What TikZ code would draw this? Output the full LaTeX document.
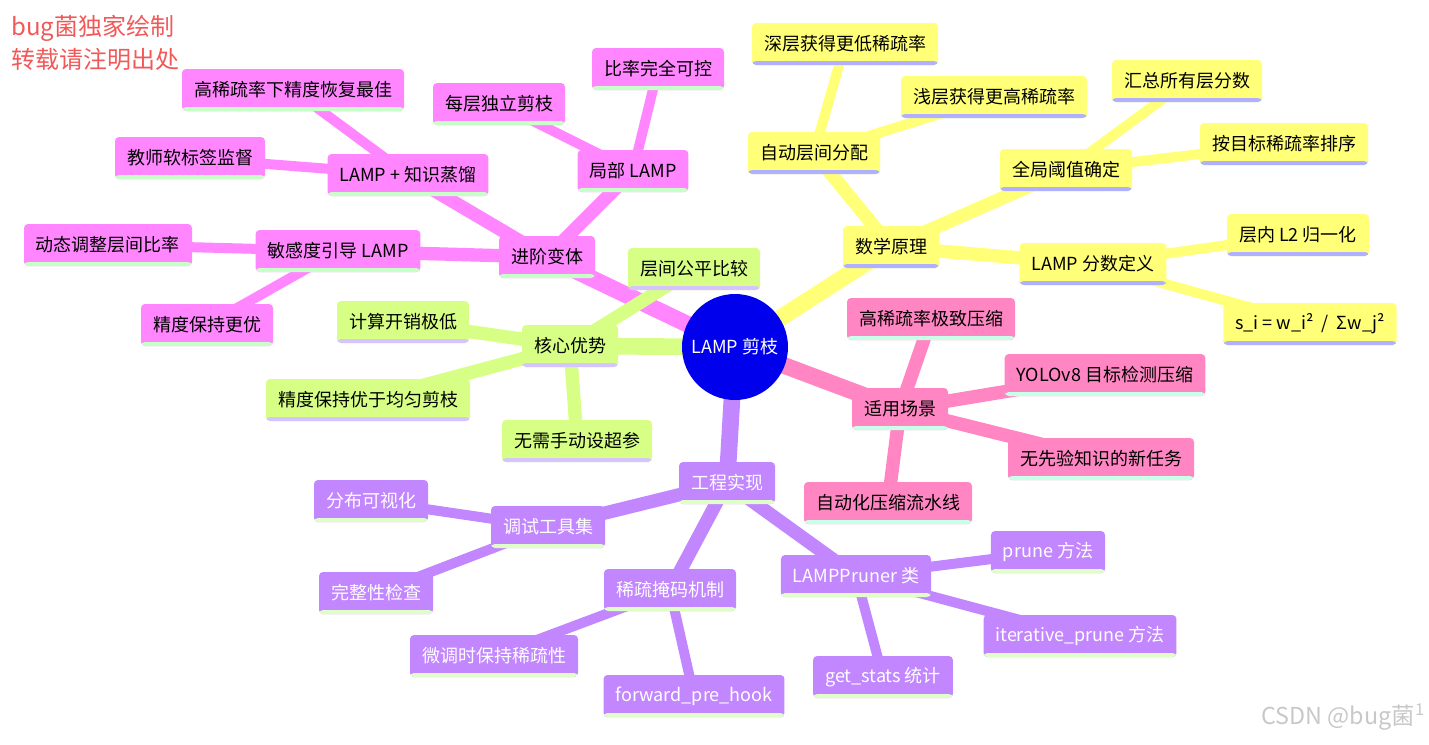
\documentclass[tikz,border=0pt]{standalone}
\usepackage{fontspec}
\setmainfont{Noto Sans CJK SC}
\usetikzlibrary{backgrounds}
\definecolor{rootblue}{RGB}{0,0,236}
\definecolor{yellowfill}{RGB}{255,255,120}
\definecolor{yellowline}{RGB}{176,176,255}
\definecolor{greenfill}{RGB}{215,255,134}
\definecolor{greenline}{RGB}{214,196,255}
\definecolor{purplefill}{RGB}{194,134,255}
\definecolor{purpleline}{RGB}{224,255,200}
\definecolor{magentafill}{RGB}{255,134,255}
\definecolor{magentaline}{RGB}{200,255,200}
\definecolor{pinkfill}{RGB}{255,134,194}
\definecolor{pinkline}{RGB}{200,255,232}
\definecolor{markred}{RGB}{242,88,88}
\definecolor{markgray}{RGB}{200,200,200}

\tikzset{
  topic/.style={rectangle, rounded corners=3pt, inner xsep=9pt, inner ysep=0pt,
    minimum height=31.5pt, fill=#1fill, text=black,
    path picture={\fill[#1line] ([yshift=3pt]path picture bounding box.south west)
      rectangle (path picture bounding box.south east);}},
  tool/.style={topic=purple, text=white},
  trunk/.style={line width=12.5pt},
  limb/.style={line width=10pt},
  twig/.style={line width=7.5pt}
}

\begin{document}
\begin{tikzpicture}[x=0.75pt, y=-0.75pt, font=\fontsize{13.5}{16}\selectfont]

  \useasboundingbox (0,0) rectangle (1429,744);

  % Watermarks
  \node[anchor=west, text=markred, font=\fontsize{18}{22}\selectfont, inner sep=0pt] (mark1) at (11,28) {bug菌独家绘制};
  \node[anchor=west, text=markred, font=\fontsize{18}{22}\selectfont, inner sep=0pt] (mark2) at (11,59) {转载请注明出处};
  \node[anchor=east, text=markgray, font=\fontsize{17.5}{20}\selectfont, inner sep=0pt] (csdn) at (1425,717) {CSDN @bug菌\textsuperscript{1}};

  % Root
  \node[circle, fill=rootblue, text=white, minimum size=79.5pt, inner sep=0pt] (root) at (735,347) {LAMP 剪枝};

  % Advanced variants
  \node[topic=magenta] (variant) at (547,257) {进阶变体};
  \node[topic=magenta] (local) at (633,171) {局部 LAMP};
  \node[topic=magenta] (ratioctrl) at (658,69) {比率完全可控};
  \node[topic=magenta] (perlayer) at (499,104) {每层独立剪枝};
  \node[topic=magenta] (distill) at (408,175) {LAMP + 知识蒸馏};
  \node[topic=magenta] (bestrecov) at (293,90) {高稀疏率下精度恢复最佳};
  \node[topic=magenta] (teacher) at (190,158) {教师软标签监督};
  \node[topic=magenta] (sensitive) at (338,251) {敏感度引导 LAMP};
  \node[topic=magenta] (dynratio) at (108,245) {动态调整层间比率};
  \node[topic=magenta] (betteracc) at (207,325) {精度保持更优};

  % Core advantages
  \node[topic=green] (advantage) at (570,346) {核心优势};
  \node[topic=green] (fair) at (694,269) {层间公平比较};
  \node[topic=green] (cheap) at (403,322) {计算开销极低};
  \node[topic=green] (accuracy) at (368,400) {精度保持优于均匀剪枝};
  \node[topic=green] (nohyper) at (577,441) {无需手动设超参};

  % Math principles
  \node[topic=yellow] (math) at (891,247) {数学原理};
  \node[topic=yellow] (autoalloc) at (814,153) {自动层间分配};
  \node[topic=yellow] (deeplow) at (845,44) {深层获得更低稀疏率};
  \node[topic=yellow] (shallowhigh) at (994,97) {浅层获得更高稀疏率};
  \node[topic=yellow] (globthr) at (1066,170) {全局阈值确定};
  \node[topic=yellow] (sumscore) at (1187,81) {汇总所有层分数};
  \node[topic=yellow] (sortscore) at (1284,144) {按目标稀疏率排序};
  \node[topic=yellow] (scoredef) at (1093,264) {LAMP 分数定义};
  \node[topic=yellow] (l2norm) at (1298,235) {层内 L2 归一化};
  \node[topic=yellow] (formula) at (1310,324) {s\_i = w\_i²\ \ / \ Σw\_j²};

  % Use cases
  \node[topic=pink] (usage) at (900,409) {适用场景};
  \node[topic=pink] (extreme) at (931,319) {高稀疏率极致压缩};
  \node[topic=pink] (yolo) at (1105,375) {YOLOv8 目标检测压缩};
  \node[topic=pink] (newtask) at (1101,459) {无先验知识的新任务};
  \node[topic=pink] (pipeline) at (888,503) {自动化压缩流水线};

  % Engineering
  \node[tool] (engineer) at (727,483) {工程实现};
  \node[tool] (debug) at (548,527) {调试工具集};
  \node[tool] (distvis) at (371,501) {分布可视化};
  \node[tool] (integrity) at (376,593) {完整性检查};
  \node[tool] (mask) at (670,590) {稀疏掩码机制};
  \node[tool] (finetune) at (494,656) {微调时保持稀疏性};
  \node[tool] (hook) at (694,696) {forward\_pre\_hook};
  \node[tool] (pruner) at (856,576) {LAMPPruner 类};
  \node[tool] (prune) at (1048,552) {prune 方法};
  \node[tool] (iterprune) at (1080,636) {iterative\_prune 方法};
  \node[tool] (stats) at (883,677) {get\_stats 统计};

  % Connectors, centre to centre, behind the boxes
  \begin{scope}[on background layer]
    \draw[trunk, magentafill] (root.center) -- (variant.center);
    \draw[limb, magentafill] (variant.center) -- (local.center);
    \draw[limb, magentafill] (variant.center) -- (distill.center);
    \draw[limb, magentafill] (variant.center) -- (sensitive.center);
    \draw[twig, magentafill] (local.center) -- (ratioctrl.center);
    \draw[twig, magentafill] (local.center) -- (perlayer.center);
    \draw[twig, magentafill] (distill.center) -- (bestrecov.center);
    \draw[twig, magentafill] (distill.center) -- (teacher.center);
    \draw[twig, magentafill] (sensitive.center) -- (dynratio.center);
    \draw[twig, magentafill] (sensitive.center) -- (betteracc.center);

    \draw[trunk, greenfill] (root.center) -- (advantage.center);
    \draw[limb, greenfill] (advantage.center) -- (fair.center);
    \draw[limb, greenfill] (advantage.center) -- (cheap.center);
    \draw[limb, greenfill] (advantage.center) -- (accuracy.center);
    \draw[limb, greenfill] (advantage.center) -- (nohyper.center);

    \draw[trunk, yellowfill] (root.center) -- (math.center);
    \draw[limb, yellowfill] (math.center) -- (autoalloc.center);
    \draw[limb, yellowfill] (math.center) -- (globthr.center);
    \draw[limb, yellowfill] (math.center) -- (scoredef.center);
    \draw[twig, yellowfill] (autoalloc.center) -- (deeplow.center);
    \draw[twig, yellowfill] (autoalloc.center) -- (shallowhigh.center);
    \draw[twig, yellowfill] (globthr.center) -- (sumscore.center);
    \draw[twig, yellowfill] (globthr.center) -- (sortscore.center);
    \draw[twig, yellowfill] (scoredef.center) -- (l2norm.center);
    \draw[twig, yellowfill] (scoredef.center) -- (formula.center);

    \draw[trunk, pinkfill] (root.center) -- (usage.center);
    \draw[limb, pinkfill] (usage.center) -- (extreme.center);
    \draw[limb, pinkfill] (usage.center) -- (yolo.center);
    \draw[limb, pinkfill] (usage.center) -- (newtask.center);
    \draw[limb, pinkfill] (usage.center) -- (pipeline.center);

    \draw[trunk, purplefill] (root.center) -- (engineer.center);
    \draw[limb, purplefill] (engineer.center) -- (debug.center);
    \draw[limb, purplefill] (engineer.center) -- (mask.center);
    \draw[limb, purplefill] (engineer.center) -- (pruner.center);
    \draw[twig, purplefill] (debug.center) -- (distvis.center);
    \draw[twig, purplefill] (debug.center) -- (integrity.center);
    \draw[twig, purplefill] (mask.center) -- (finetune.center);
    \draw[twig, purplefill] (mask.center) -- (hook.center);
    \draw[twig, purplefill] (pruner.center) -- (prune.center);
    \draw[twig, purplefill] (pruner.center) -- (iterprune.center);
    \draw[twig, purplefill] (pruner.center) -- (stats.center);
  \end{scope}

\end{tikzpicture}
\end{document}
